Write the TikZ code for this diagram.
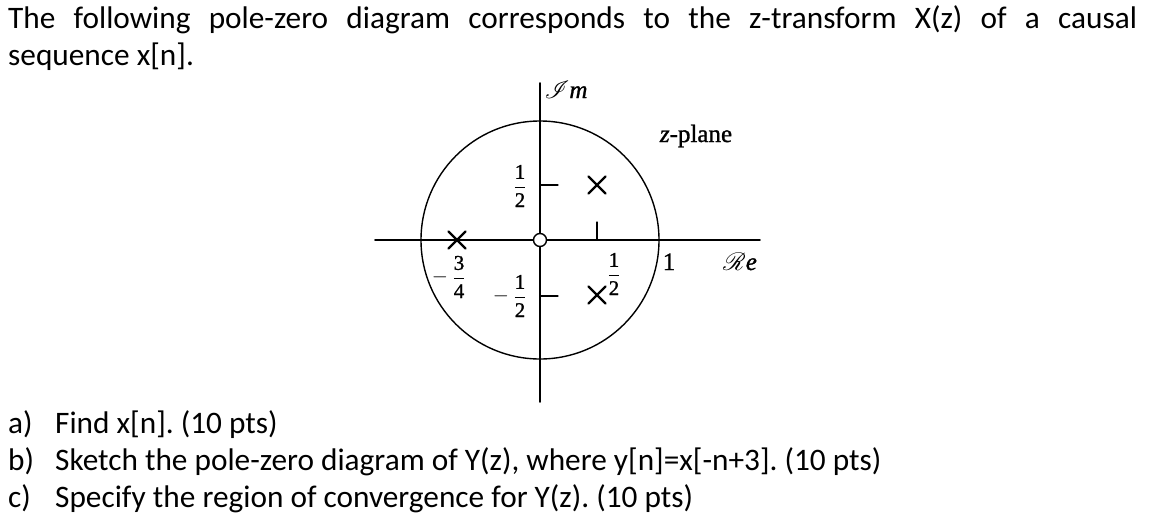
\documentclass[tikz,border=0pt]{standalone}
\usepackage{fontspec}
\usepackage{mathrsfs}
\setmainfont{Carlito}
\newfontfamily\timesfont[FakeBold=1.2]{Liberation Serif}
\usetikzlibrary{shapes.misc}
\tikzset{
	axisline/.style={line width=1.8pt},
	unitcircle/.style={line width=1.4pt},
	smalltick/.style={line width=1.2pt},
	pole/.style={cross out,draw,line width=2.2pt,minimum size=15pt,inner sep=0pt},
	zero/.style={circle,draw,fill=white,line width=1.4pt,minimum size=13pt,inner sep=0pt},
	lbl/.style={font=\timesfont\fontsize{25}{30}\selectfont,inner sep=0pt,anchor=base},
	frc/.style={font=\fontsize{21}{25}\selectfont,inner sep=0pt},
	body/.style={font=\frenchspacing\fontsize{31.3}{37}\selectfont,inner sep=0pt,anchor=base west}
}
\newcommand{\hf}[2]{$\displaystyle\frac{\hbox{\timesfont #1}}{\hbox{\timesfont #2}}$}
\begin{document}
\begin{tikzpicture}[x=1pt,y=-1pt,line join=round,line cap=round]
	\useasboundingbox (0,0) rectangle (1149,523);
	\path
	(540,240) coordinate (O)
	(375,240) coordinate (W)
	(760,240) coordinate (E)
	(540,83) coordinate (N)
	(540,402) coordinate (S);
	% question text
	\node[body,text width=1129pt,align=justify] (line1) at (8,28) {\noindent\parfillskip=0pt The following pole-zero diagram corresponds to the z-transform X(z) of a causal\par};
	\node[body] (line2) at (8,65) {sequence x[n].};
	% z-plane
	\draw[unitcircle] (O) circle [radius=119pt];
	\draw[axisline] (W) -- (E) (N) -- (S);
	\draw[smalltick] (540,185) -- (558,185) (540,296) -- (558,296) (597,240) -- (597,222);
	\node[zero] (z0) at (O) {};
	\node[pole] (p1) at (457,240) {};
	\node[pole] (p2) at (597,185) {};
	\node[pole] (p3) at (597,295) {};
	% labels
	\node[frc] (fa) at (520,186) {\hf12};
	\node[frc] (fb) at (520,296) {\hf12};
	\node[frc] (mb) at (501,296) {$-$};
	\node[frc] (fc) at (459,277) {\hf34};
	\node[frc] (mc) at (440,277) {$-$};
	\node[frc] (fd) at (614,274) {\hf12};
	\node[lbl] (one) at (669,270) {1};
	\node[lbl] (re) at (740,270) {$\mathscr{R}$\itshape e};
	\node[lbl] (im) at (566,98) {$\mathscr{I}$\itshape m};
	\node[lbl] (zp) at (696,142) {{\itshape z}-plane};
	% questions
	\node[body] (la) at (8,433) {a)};
	\node[body] (ta) at (55,433) {Find x[n]. (10 pts)};
	\node[body] (lb) at (8,470) {b)};
	\node[body] (tb) at (55,470) {Sketch the pole-zero diagram of Y(z), where y[n]=x[-n+3]. (10 pts)};
	\node[body] (lc) at (8,507) {c)};
	\node[body] (tc) at (55,507) {Specify the region of convergence for Y(z). (10 pts)};
\end{tikzpicture}
\end{document}
